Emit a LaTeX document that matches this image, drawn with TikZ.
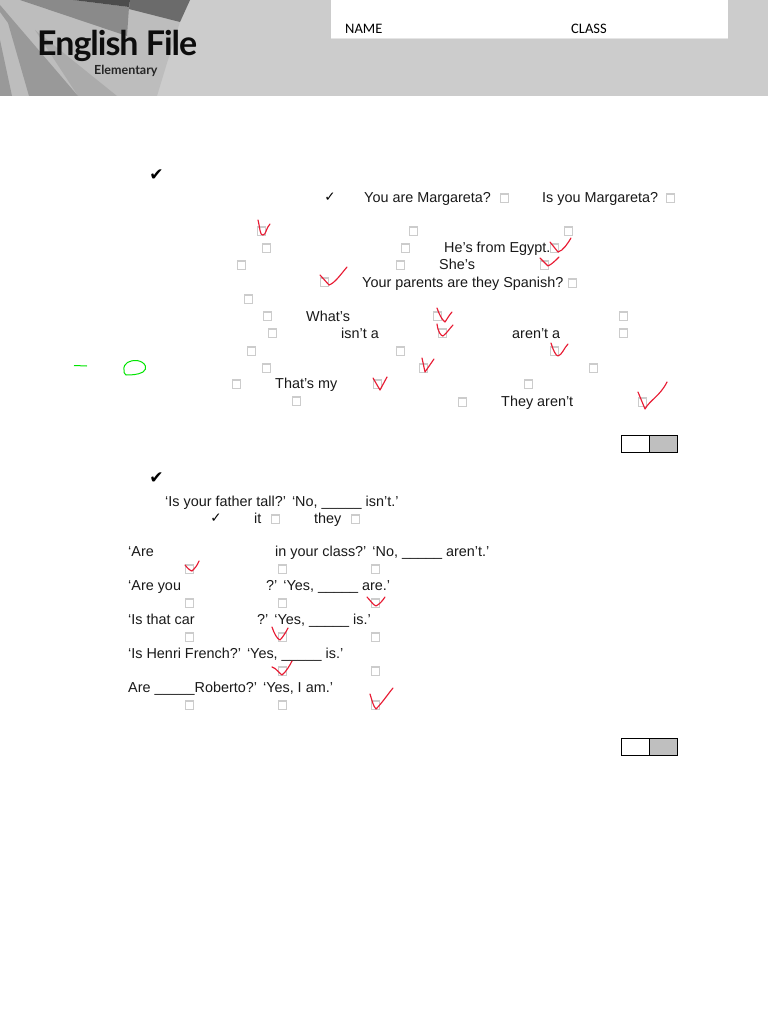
\documentclass[tikz,border=0pt]{standalone}
\usepackage{fontspec}
\setmainfont{Liberation Sans}
\newfontfamily\logofont{Lato}
\newfontfamily\headfont{Carlito}
\newfontfamily\symfont{DejaVu Sans}
\newcommand{\gapp}{\hspace{6pt}}
\definecolor{inkred}{RGB}{232,28,52}
\tikzset{
 txt/.style={anchor=base west,inner sep=0,font=\fontsize{14.4}{16}\selectfont,text=black!90},
 cb/.style={draw=black!20,line width=1.2pt,fill=white,minimum size=8.5pt,inner sep=0,shape=rectangle,xshift=0.5pt,yshift=-0.3pt},
 red/.style={draw=inkred,line width=1.15pt,line cap=round,line join=round},
 mark1/.style={anchor=center,inner sep=0,font=\symfont\fontsize{17}{17}\selectfont},
 mark2/.style={anchor=center,inner sep=0,font=\symfont\fontsize{13.5}{14}\selectfont},
 scorebox/.style={draw=black,line width=1pt,minimum height=17pt,minimum width=28.5pt,inner sep=0,shape=rectangle}
}
\begin{document}
\begin{tikzpicture}[x=1pt,y=-1pt]
\useasboundingbox (0,0) rectangle (768,1024);
\fill[white] (0,0) rectangle (768,1024);
% header
\fill[black!20] (0,0) rectangle (768,96);
\fill[black!26] (0,0) -- (190,0) -- (180,22) -- (167,63) -- (157,96) -- (0,96) -- cycle;
\fill[black!33] (35,30) -- (117,96) -- (78,96) -- cycle;
\fill[black!40] (0,5) -- (78,96) -- (29,96) -- (8,23) -- (0,12) -- cycle;
\fill[black!40] (0,40) -- (12,96) -- (0,96) -- cycle;
\fill[black!46] (20,0) -- (73,0) -- (129,7) -- (127,36) -- cycle;
\fill[black!58] (130,0) -- (190,0) -- (180,22) -- (129,9) -- cycle;
\fill[black!70] (73,0) -- (130,0) -- (129,7) -- cycle;
\node[anchor=base west,inner sep=0,font=\logofont\bfseries\fontsize{34}{34}\selectfont,text=black!95] (logo) at (37,56) {\addfontfeatures{LetterSpace=-3}English File};
\node[anchor=base west,inner sep=0,font=\logofont\bfseries\fontsize{12.5}{13}\selectfont,text=black!85] (sub) at (94,75) {Elementary};
\fill[white] (331,0) rectangle (728,38);
\draw[black!10] (331,38.5) -- (728,38.5);
\node[anchor=base west,inner sep=0,font=\headfont\fontsize{14.5}{15}\selectfont] (nm) at (345,33.5) {NAME};
\node[anchor=base west,inner sep=0,font=\headfont\fontsize{14.5}{15}\selectfont] (cl) at (571,33.5) {CLASS};
% section 1
\node[mark1] (m1) at (156.5,175) {✔};
\node[mark2] (m2) at (330,197.5) {✓};
\node[txt] (t1) at (364,203) {You are Margareta?};
\node[txt] (t2) at (542,203) {Is you Margareta?};
\node[txt] (t3) at (444,252) {He’s from Egypt.};
\node[txt] (t4) at (439,269) {She’s};
\node[txt] (t5) at (362,287) {Your parents are they Spanish?};
\node[txt] (t6) at (306,321) {What’s};
\node[txt] (t7) at (341,338) {isn’t a};
\node[txt] (t8) at (512,338) {aren’t a};
\node[txt] (t9) at (275,388) {That’s my};
\node[txt] (t10) at (501,406) {They aren’t};
\foreach \n/\x/\y in {a1/504/198,a2/670/198,a3/261/231,a4/413/231,a5/568/231,a6/266/248,a7/405/248,a8/554/248,a9/241/265,a10/400/265,a11/544/265,a12/324/282,a13/572/283,a14/248/299,a15/267/316,a16/437/316,a17/623/316,a18/272/333,a19/442/333,a20/623/333,a21/251/351,a22/400/351,a23/554/351,a24/266/368,a25/423/368,a26/593/368,a27/236/384,a28/377/384,a29/528/384,a30/296/401,a31/462/402,a32/642/402}
  \node[cb] (\n) at (\x,\y) {};
% score 1
\node[scorebox,fill=white] (s1) at (635.3,443.5) {};
\node[scorebox,fill=black!25] (s2) at (663.7,443.5) {};
% section 2
\node[mark1] (m3) at (156.5,478) {✔};
\node[txt] (u1) at (165,506) {‘Is your father tall?’\gapp‘No, \_\_\_\_\_ isn’t.’};
\node[mark2] (m4) at (216,518) {✓};
\node[txt] (u2) at (254,523) {it};
\node[txt] (u3) at (314,523) {they};
\node[txt] (u4) at (128,556) {‘Are};
\node[txt] (u5) at (275,556) {in your class?’\gapp‘No, \_\_\_\_\_ aren’t.’};
\node[txt] (u6) at (128,590) {‘Are you};
\node[txt] (u7) at (266,590) {?’\gapp‘Yes, \_\_\_\_\_ are.’};
\node[txt] (u8) at (128,624) {‘Is that car};
\node[txt] (u9) at (257,624) {?’\gapp‘Yes, \_\_\_\_\_ is.’};
\node[txt] (u10) at (128,658) {‘Is Henri French?’\gapp‘Yes, \_\_\_\_\_ is.’};
\node[txt] (u11) at (128,692) {Are \_\_\_\_\_Roberto?’\gapp‘Yes, I am.’};
\foreach \n/\x/\y in {b1/275/519,b2/355/519,b3/189/569,b4/282/569,b5/375/569,b6/189/603,b7/282/603,b8/375/603,b9/189/637,b10/282/637,b11/375/637,b12/282/671,b13/375/671,b14/189/705,b15/282/705,b16/375/705}
  \node[cb] (\n) at (\x,\y) {};
\node[scorebox,fill=white] (s3) at (635.3,746.5) {};
\node[scorebox,fill=black!25] (s4) at (663.7,746.5) {};
% ticks
\draw[red] (258,220) .. controls (260,228) and (260,236) .. (263,235) .. controls (266,235) and (266,228) .. (270,224);
\draw[red] (320,275) -- (329,285) .. controls (335,283) and (341,274) .. (347,267);
\draw[red] (550,242) -- (558,252) .. controls (563,251) and (568,243) .. (571,238);
\draw[red] (540,258) -- (548,266) .. controls (552,264) and (555,261) .. (559,257);
\draw[red] (437,308) .. controls (439,314) and (442,320) .. (445,322) .. controls (447,319) and (450,314) .. (452,312);
\draw[red] (437,324) .. controls (438,332) and (441,336) .. (443,336) .. controls (447,333) and (450,328) .. (453,325);
\draw[red] (551,343) .. controls (553,350) and (556,356) .. (558,356) .. controls (562,355) and (564,348) .. (568,344);
\draw[red] (422,358) -- (425,372) -- (434,359);
\draw[red] (373,378) -- (380,390) -- (387,377);
\draw[red] (638,392) -- (645,409) .. controls (650,400) and (660,396) .. (667,382);
\draw[red] (185,565) .. controls (188,569) and (191,571) .. (192,571) .. controls (195,568) and (197,566) .. (199,561);
\draw[red] (367,597) .. controls (370,600) and (373,605) .. (376,606) .. controls (380,604) and (383,600) .. (385,597);
\draw[red] (272,627) .. controls (274,633) and (277,639) .. (280,640) .. controls (283,637) and (286,632) .. (288,628);
\draw[red] (272,667) .. controls (276,668) and (279,673) .. (282,675) .. controls (286,672) and (290,665) .. (292,661);
\draw[red] (370,694) .. controls (372,700) and (373,706) .. (376,709) .. controls (382,703) and (388,694) .. (393,688);
% green
\draw[green!90!black,line width=1pt] (74,365.5) -- (87,366);
\draw[green!90!black,line width=1pt] (124,370) .. controls (123,363) and (130,360) .. (137,360.5) .. controls (146,362) and (148,369) .. (143,372) .. controls (138,375) and (130,375) .. (126,375) .. controls (124,374) and (124,372) .. (124,370) -- cycle;
\end{tikzpicture}
\end{document}
